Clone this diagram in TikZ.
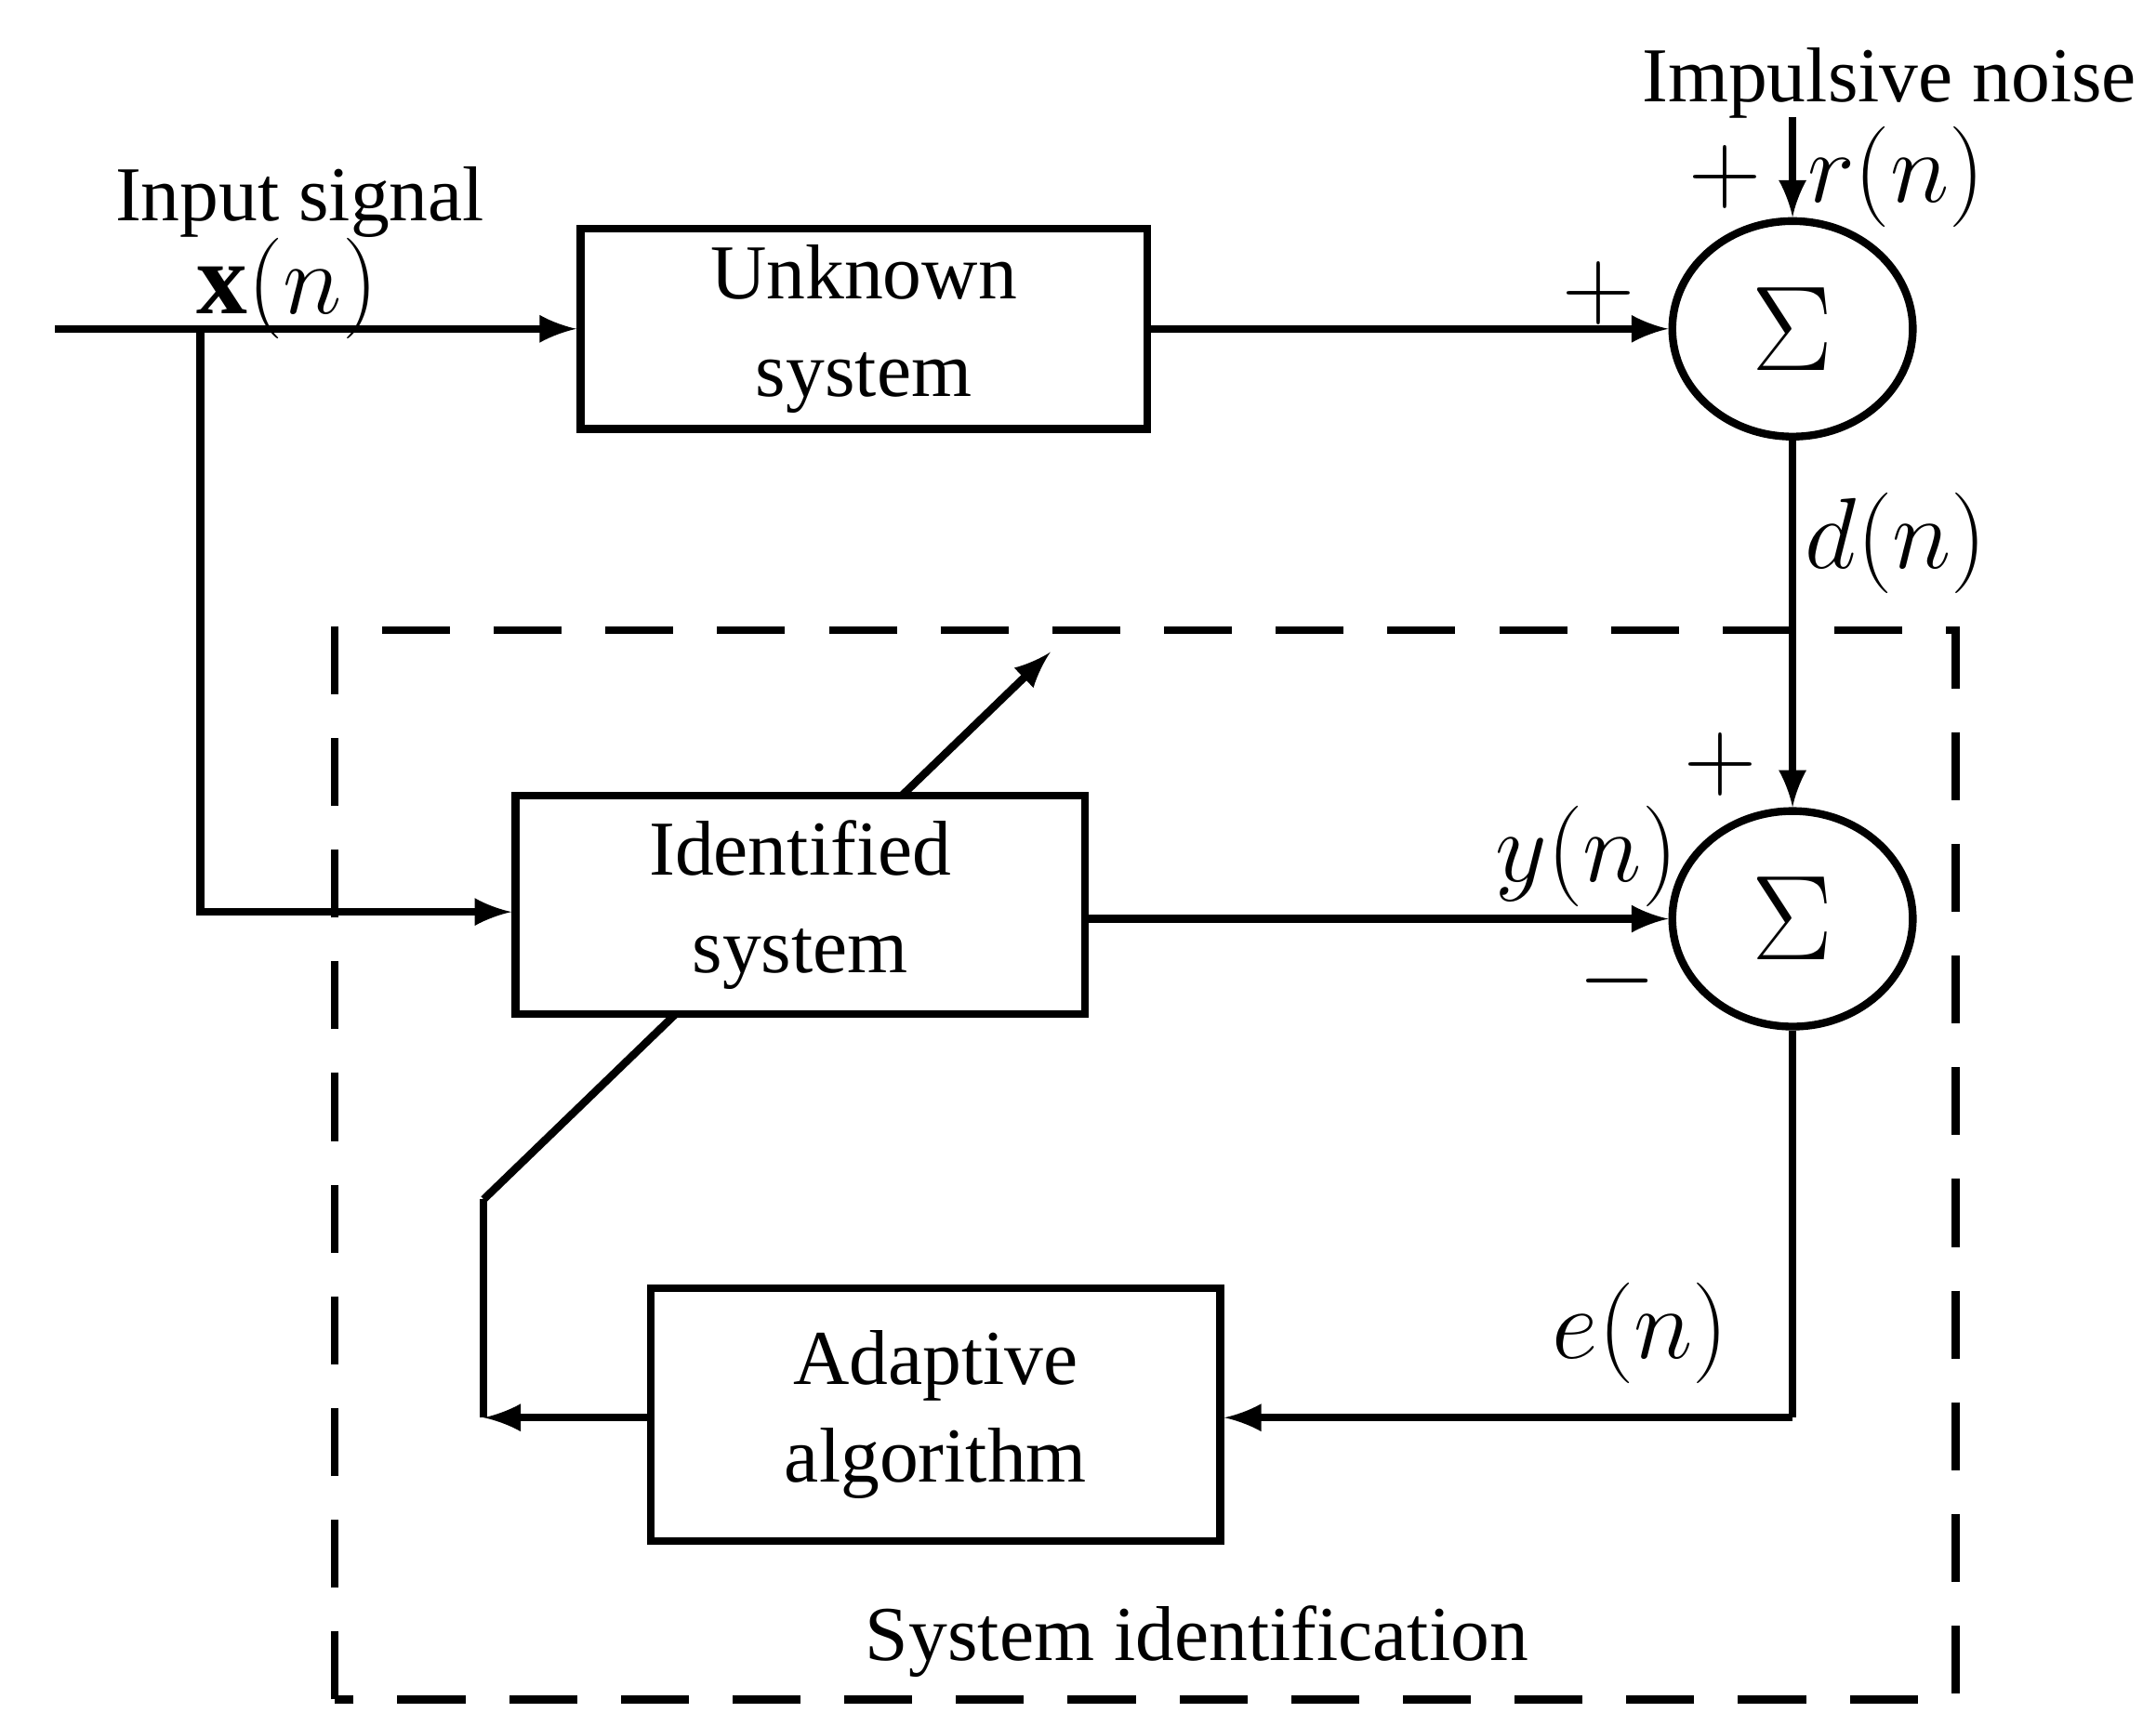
\documentclass[tikz,border=0pt]{standalone}
\usepackage{fontspec}
\setmainfont{Liberation Serif}
\usetikzlibrary{arrows}
\usetikzlibrary{calc}
\usetikzlibrary{positioning}
\usetikzlibrary{shapes}
\tikzset{
  block/.style={draw, line width=1.6pt, fill=white, align=center,
    font=\fontsize{16}{20}\selectfont},
  sum/.style={draw, ellipse, line width=1.6pt, minimum width=1.74cm,
    minimum height=1.56cm, inner sep=0, font=\fontsize{40}{40}\selectfont},
  label/.style={font=\fontsize{21}{24}\selectfont, inner sep=0},
  txt/.style={font=\fontsize{16}{19}\selectfont, inner sep=0},
  arrow/.style={-latex, line width=1.6pt},
  line/.style={line width=1.6pt}
}
\begin{document}
\begin{tikzpicture}
  \useasboundingbox (0,0) rectangle (15.6,12.49);
  % dashed frame
  \draw [line width=1.6pt, dash pattern=on 14pt off 9pt] (2.42,0.19) rectangle (14.15,7.93);
  \node [txt] (frame) at (8.66,0.61) {System identification};

  % tuning line (drawn below the box)
  \coordinate (kink) at (3.50,3.81);
  \coordinate (tip) at (7.60,7.77);
  \draw [arrow] (kink) -- (tip);

  \node [block, minimum width=4.10cm, minimum height=1.40cm] (unknown) at (6.25,10.11) {Unknown\\system};
  \node [block, minimum width=4.12cm, minimum height=1.58cm] (ident) at (5.79,5.94) {Identified\\system};
  \node [block, minimum width=4.12cm, minimum height=1.83cm] (adapt) at (6.77,2.25) {Adaptive\\algorithm};
  \node [sum] (sum1) at (12.97,10.11) {$\Sigma$};
  \node [sum] (sum2) at (12.97,5.84) {$\Sigma$};

  \coordinate (in) at (0.40,10.11);
  \coordinate (split) at (1.45,10.11);
  \coordinate (noise) at (12.97,11.64);
  \coordinate (ecorner) at (12.97,2.23);
  \coordinate (aout) at (3.50,2.23);

  % signal path
  \draw [line] (in) -- (split);
  \draw [arrow] (split) -- (unknown);
  \draw [arrow] (split) |- (ident.west |- 0,5.89);
  \draw [arrow] (unknown) -- (sum1);
  \draw [arrow] (noise) -- (sum1);
  \draw [arrow] (sum1) -- (sum2);
  \draw [arrow] (ident.east |- sum2) -- (sum2);
  \draw [line] (sum2) -- (ecorner);
  \draw [arrow] (ecorner) -- (adapt.east |- ecorner);
  \draw [arrow] (adapt.west |- aout) -- (aout);
  \draw [line] (aout) -- (kink);

  % labels
  \node [txt] (inlab) at (2.17,11.03) {Input signal};
  \node [label] (xlab) at (2.08,10.40) {$\mathbf{x}(n)$};
  \node [txt] (noiselab) at (13.67,11.89) {Impulsive noise};
  \node [label] (plus1) at (12.48,11.21) {$+$};
  \node [label] (rlab) at (13.72,11.21) {$r(n)$};
  \node [label] (plus2) at (11.57,10.37) {$+$};
  \node [label] (dlab) at (13.72,8.56) {$d(n)$};
  \node [label] (plus3) at (12.45,6.96) {$+$};
  \node [label] (ylab) at (11.48,6.29) {$y(n)$};
  \node [label] (minus) at (11.70,5.39) {$-$};
  \node [label] (elab) at (11.87,2.84) {$e(n)$};
\end{tikzpicture}
\end{document}
